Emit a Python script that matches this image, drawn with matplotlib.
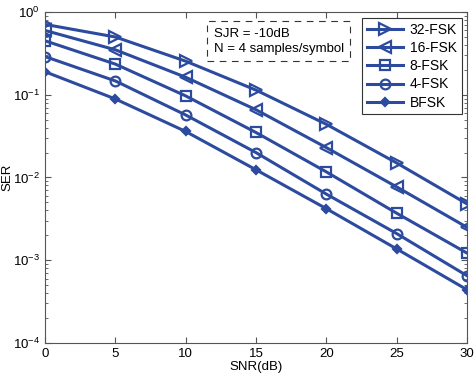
import matplotlib
matplotlib.use("Agg")
import matplotlib.pyplot as plt
import numpy as np

plt.rcParams['font.family'] = ['Liberation Sans', 'DejaVu Sans']

snr = [0, 5, 10, 15, 20, 25, 30]
ser_32fsk = [0.71, 0.50, 0.255, 0.114, 0.044, 0.015, 0.0048]
ser_16fsk = [0.60, 0.35, 0.163, 0.066, 0.023, 0.0077, 0.0025]
ser_8fsk = [0.45, 0.235, 0.097, 0.035, 0.0117, 0.0037, 0.00122]
ser_4fsk = [0.29, 0.147, 0.057, 0.020, 0.0063, 0.0021, 0.00065]
ser_bfsk = [0.19, 0.089, 0.036, 0.0124, 0.0042, 0.00137, 0.00044]

labels = ['32-FSK', '16-FSK', '8-FSK', '4-FSK', 'BFSK']
markers = ['>', '<', 's', 'o', 'D']
sizes = [9, 9, 7, 7, 4.5]
series = [ser_32fsk, ser_16fsk, ser_8fsk, ser_4fsk, ser_bfsk]
col = '#2d4b9e'

fig = plt.figure(figsize=(4.74, 3.78), dpi=100)
ax = fig.add_axes([0.095, 0.093, 0.89, 0.875])

for s, lab, mk, ms in zip(series, labels, markers, sizes):
    ax.semilogy(snr, s, color=col, lw=2.2, marker=mk, ms=ms,
                mfc='none' if mk != 'D' else col, mec=col, mew=1.6, label=lab)

ax.set_xlim(0, 30)
ax.set_ylim(1e-4, 1)
ax.set_xticks([0, 5, 10, 15, 20, 25, 30])
ax.tick_params(which='both', direction='in', top=True, right=True,
               labelsize=9.5, color='#555555')
ax.tick_params(which='major', length=4)
ax.tick_params(which='minor', length=2)
for sp in ax.spines.values():
    sp.set_color('#555555')
ax.set_xlabel('SNR(dB)', fontsize=9.5, labelpad=1)
ax.set_ylabel('SER', fontsize=9.5, va='center')
ax.yaxis.set_label_coords(-0.09, 0.5)

leg = ax.legend(loc='upper right', fontsize=10, handlelength=2.6,
                fancybox=False, framealpha=1, edgecolor='#333333',
                borderpad=0.35, labelspacing=0.3, handletextpad=0.45,
                borderaxespad=0, bbox_to_anchor=(0.988, 0.982))
leg.get_frame().set_linewidth(0.8)

ax.text(0.40, 0.912, 'SJR = -10dB\nN = 4 samples/symbol', transform=ax.transAxes,
        fontsize=9.5, va='center', ha='left', linespacing=1.35,
        bbox=dict(boxstyle='square,pad=0.5', fc='white', ec='#333333',
                  ls=(0, (6, 5)), lw=0.8))

fig.savefig('out.png', dpi=100)
